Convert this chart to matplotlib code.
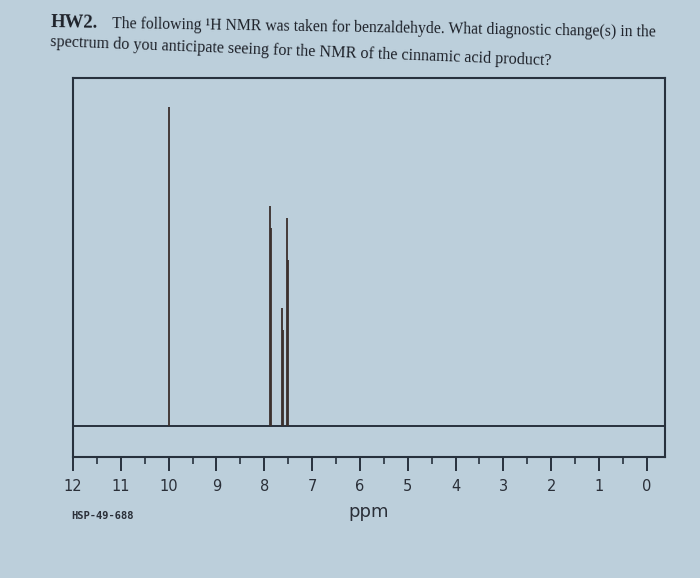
import matplotlib
matplotlib.use("Agg")
import matplotlib.pyplot as plt
from matplotlib.ticker import MultipleLocator

# Data: peaks of benzaldehyde 1H NMR (ppm, relative height)
peak_ppm = [10.00, 7.88, 7.86, 7.63, 7.61, 7.53, 7.51]
peak_height = [1.00, 0.69, 0.62, 0.37, 0.30, 0.65, 0.52]
tick_values = [12, 11, 10, 9, 8, 7, 6, 5, 4, 3, 2, 1, 0]
tick_labels = ["12", "11", "10", "9", "8", "7", "6", "5", "4", "3", "2", "1", "0"]

bg = "#bccfdb"
ink = "#27313d"
peak_col = "#3a2f2c"

fig = plt.figure(figsize=(7.0, 5.78), dpi=100, facecolor=bg)
W, H = 700, 578
left, right, top, bottom = 73, 665, 78, 457
ax = fig.add_axes([left / W, 1 - bottom / H, (right - left) / W, (bottom - top) / H])
ax.set_facecolor(bg)

ax.axhline(0, color=ink, lw=1.4, zorder=2)
ax.vlines(peak_ppm, 0, peak_height, color=peak_col, lw=1.3, zorder=3)

ax.set_xlim(12, -0.38)
ax.set_ylim(-0.097, 1.09)
ax.set_yticks([])
ax.set_xticks(tick_values)
ax.set_xticklabels(tick_labels, fontsize=10.5, color="#2a2f38")
ax.xaxis.set_minor_locator(MultipleLocator(0.5))
ax.tick_params(axis="x", which="major", direction="out", length=10, width=1.4, color=ink, pad=6)
ax.tick_params(axis="x", which="minor", direction="out", length=5, width=1.2, color=ink)
for s in ax.spines.values():
    s.set_color(ink)
    s.set_linewidth(1.5)

ax.set_xlabel("ppm", fontsize=13, color="#2a2f38", labelpad=6)
fig.text(71 / W, 1 - 519 / H, "HSP-49-688", fontsize=7.5, color="#2a2f38",
         family="DejaVu Sans Mono", weight="bold", va="baseline")

serif = "Liberation Serif"
fig.text(51 / W, 1 - 27 / H, "HW2.", fontsize=13.5, weight="bold", family=serif,
         color="#1e222a", rotation=-1.0, rotation_mode="anchor", va="baseline")
fig.text(112 / W, 1 - 28 / H,
         "The following \u00b9H NMR was taken for benzaldehyde. What diagnostic change(s) in the",
         fontsize=11.3, family=serif, color="#1e222a", rotation=-0.9,
         rotation_mode="anchor", va="baseline")
fig.text(50 / W, 1 - 46 / H,
         "spectrum do you anticipate seeing for the NMR of the cinnamic acid product?",
         fontsize=11.6, family=serif, color="#1e222a", rotation=-2.2,
         rotation_mode="anchor", va="baseline")

fig.savefig("out.png", dpi=100, facecolor=bg)
